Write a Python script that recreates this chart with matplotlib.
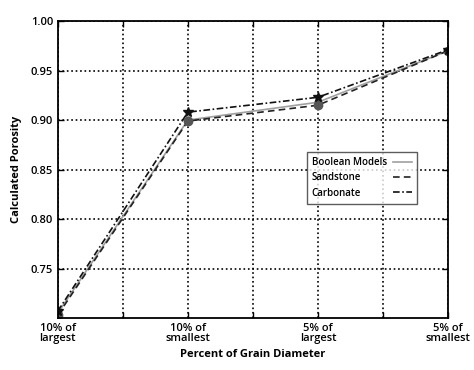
import matplotlib.pyplot as plt
import numpy as np

categories = ['10% of\nlargest', '10% of\nsmallest', '5% of\nlargest', '5% of\nsmallest']
boolean_models = [0.705, 0.900, 0.918, 0.970]
sandstone = [0.703, 0.899, 0.915, 0.970]
carbonate = [0.707, 0.908, 0.923, 0.971]

plt.rcParams['font.family'] = ['Open Sans', 'DejaVu Sans']

x = np.arange(len(categories))
fig = plt.figure(figsize=(4.74, 3.70), dpi=100)
ax = fig.add_axes([0.122, 0.1405, 0.823, 0.8025])

ax.plot(x, boolean_models, color='#a0a0a0', lw=1.2, marker='o', ms=5,
        mfc='#808080', mec='#808080', label='Boolean Models')
ax.plot(x, sandstone, color='#222222', lw=1.2, ls=(0, (4, 2.5)), marker='o', ms=6,
        mfc='#555555', mec='#555555', label='Sandstone')
ax.plot(x, carbonate, color='#111111', lw=1.2, ls=(0, (4, 1.5, 1, 1.5)), marker='*', ms=7,
        mfc='#111111', mec='#111111', label='Carbonate')

ax.set_xlim(0, 3)
ax.set_ylim(0.70, 1.00)
ax.set_xticks(x)
ax.set_xticklabels(categories, fontsize=8, linespacing=0.85, fontweight='semibold')
ax.set_xticks([0.5, 1.5, 2.5], minor=True)
ax.set_yticks([0.75, 0.80, 0.85, 0.90, 0.95, 1.00])
ax.set_yticklabels(['0.75', '0.80', '0.85', '0.90', '0.95', '1.00'], fontsize=8,
                   fontweight='semibold')
ax.tick_params(which='both', direction='in', top=True, right=True, length=4, width=1)
ax.grid(which='both', color='black', ls=':', lw=1.2)
for s in ax.spines.values():
    s.set_linewidth(1.3)

ax.set_xlabel('Percent of Grain Diameter', fontsize=8, fontweight='bold', labelpad=4)
ax.set_ylabel('Calculated Porosity', fontsize=8, fontweight='bold', labelpad=6)

leg = ax.legend(loc='upper left', bbox_to_anchor=(0.626, 0.575), markerfirst=False,
                prop={'size': 7, 'weight': 'semibold'}, frameon=True, fancybox=False,
                edgecolor='#333333', handlelength=2.0, handletextpad=0.6,
                borderpad=0.5, labelspacing=0.45)
leg.get_frame().set_linewidth(1)
for h in leg.legend_handles:
    h.set_marker('')

# left-align legend labels while keeping the line samples on the right
fig.canvas.draw()
for col in leg._legend_handle_box.get_children():
    rows = col.get_children()
    widths = [r.get_children()[0]._text.get_window_extent().width for r in rows]
    wmax = max(widths)
    for r, w in zip(rows, widths):
        r.sep += (wmax - w) * 72 / fig.dpi

fig.savefig('out.png', dpi=100)
